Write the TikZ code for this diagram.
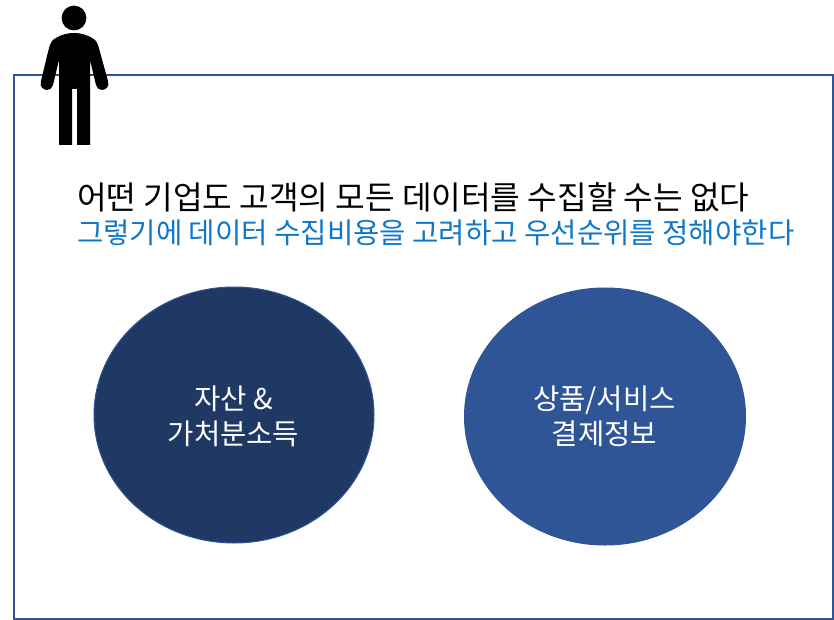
\documentclass[tikz,border=0pt]{standalone}
\usepackage{fontspec}
\setmainfont{Noto Sans CJK KR}
\definecolor{framec}{HTML}{2F5597}
\definecolor{darkc}{HTML}{1F3864}
\definecolor{bluec}{HTML}{2F5597}
\definecolor{textblue}{HTML}{0F78C8}
\tikzset{
  plain/.style={inner sep=0pt,outer sep=0pt},
  disc/.style={draw=framec,line width=1pt},
  circletext/.style={plain,text=white,align=center,font=\fontsize{28.6}{35}\selectfont}
}
\begin{document}
\begin{tikzpicture}[x=1pt,y=-1pt]
\useasboundingbox (0,0) rectangle (834,620);
\fill[white] (0,0) rectangle (834,620);
\draw[framec,line width=1.5pt] (14,75) rectangle (833,619);
% person
\fill[black] (74,18) circle (12.4);
\fill[black] (74,33) .. controls (66,33) and (57,36) .. (52,41)
  .. controls (50,44) and (49,48) .. (48,52)
  -- (41,81) .. controls (39,87) and (44,90) .. (47,90)
  .. controls (50,90) and (52,88) .. (53,85)
  -- (59,60) -- (59,145) -- (72,145) -- (72,89) -- (77,89) -- (77,145) -- (90,145) -- (90,60)
  -- (96,85) .. controls (97,88) and (99,90) .. (102,90)
  .. controls (105,90) and (110,87) .. (108,81)
  -- (100,52) .. controls (99,48) and (98,44) .. (96,41)
  .. controls (91,36) and (82,33) .. (74,33) -- cycle;
% heading
\node[plain,anchor=west,font=\fontsize{32.2}{36}\selectfont] (title) at (77,197) {어떤 기업도 고객의 모든 데이터를 수집할 수는 없다};
\node[plain,anchor=west,text=textblue,font=\fontsize{28.65}{34}\selectfont] (sub) at (77,233) {그렇기에 데이터 수집비용을 고려하고 우선순위를 정해야한다};
% circles
\draw[disc,fill=darkc] (234,415) ellipse (140 and 128);
\draw[disc,fill=bluec] (605,416.5) ellipse (140.5 and 128.5);
\node[circletext] (a) at (233.5,416) {자산 \&\\가처분소득};
\node[circletext] (b) at (604.5,416) {상품/서비스\\결제정보};
\end{tikzpicture}
\end{document}
